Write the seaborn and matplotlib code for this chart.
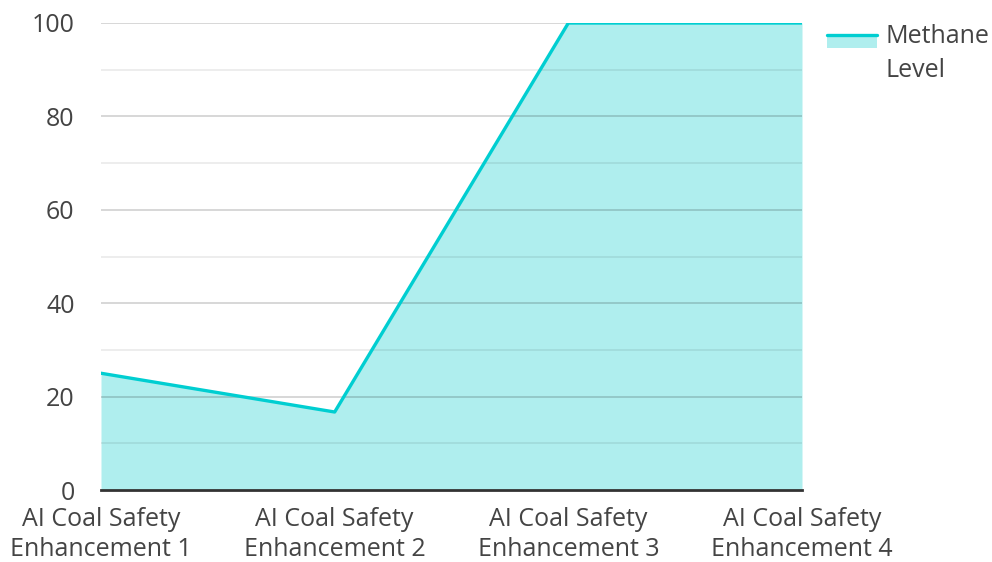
import matplotlib
matplotlib.use("Agg")
import matplotlib.pyplot as plt
import seaborn as sns
import pandas as pd
from matplotlib.lines import Line2D
from matplotlib.patches import Rectangle

categories = [
    "AI Coal Safety\nEnhancement 1",
    "AI Coal Safety\nEnhancement 2",
    "AI Coal Safety\nEnhancement 3",
    "AI Coal Safety\nEnhancement 4",
]
methane_level = [25, 16.7, 100, 100]
y_ticks = [0, 20, 40, 60, 80, 100]
y_minor = [10, 30, 50, 70, 90]
legend_lines = ["Methane", "Level"]

LINE_COLOR = "#00CED1"
FILL_COLOR = "#AFEEEE"
TEXT_COLOR = "#444444"
FONT_SIZE = 18

sns.set_theme(style="white")
plt.rcParams["font.family"] = ["Open Sans", "DejaVu Sans"]

W, H = 992, 562
df = pd.DataFrame({"idx": range(len(categories)), "level": methane_level})

fig = plt.figure(figsize=(W / 100, H / 100), dpi=100)
ax = fig.add_axes([101 / W, 1 - 490 / H, (802 - 101) / W, (490 - 23) / H])

ax.fill_between(df["idx"], 0, df["level"], color=FILL_COLOR, linewidth=0, zorder=1)
sns.lineplot(data=df, x="idx", y="level", ax=ax, color=LINE_COLOR, linewidth=2.4,
             zorder=3, legend=False)

# horizontal guide lines drawn over the filled area
for t in y_ticks[1:]:
    ax.axhline(t, color="#000000", alpha=0.2, linewidth=1.1, zorder=2)
for t in y_minor:
    ax.axhline(t, color="#000000", alpha=0.09, linewidth=1.1, zorder=2)

ax.set_xlim(0, len(categories) - 1)
ax.set_ylim(0, 100)
ax.set_xticks(range(len(categories)))
ax.set_xticklabels(categories, fontsize=FONT_SIZE, color=TEXT_COLOR, linespacing=1.3)
ax.set_yticks(y_ticks)
ax.set_yticklabels([str(t) for t in y_ticks], fontsize=FONT_SIZE, color=TEXT_COLOR)
ax.tick_params(axis="y", length=0, pad=19)
ax.tick_params(axis="x", length=0, pad=12)
ax.set_xlabel("")
ax.set_ylabel("")
ax.grid(False)

for side in ["top", "right", "left"]:
    ax.spines[side].set_visible(False)
ax.spines["bottom"].set_color("#333333")
ax.spines["bottom"].set_linewidth(2)
ax.spines["bottom"].set_zorder(4)

# legend: line over a filled swatch, label wrapped on two lines
fig.add_artist(Rectangle((827 / W, 1 - 48 / H), 50 / W, 13 / H, transform=fig.transFigure,
                         facecolor=FILL_COLOR, edgecolor="none"))
fig.add_artist(Line2D([827 / W, 877 / W], [1 - 35 / H, 1 - 35 / H], transform=fig.transFigure,
                      color=LINE_COLOR, linewidth=2.4))
for i, line in enumerate(legend_lines):
    fig.text(886 / W, 1 - (43 + 34 * i) / H, line, fontsize=FONT_SIZE, color=TEXT_COLOR,
             ha="left", va="baseline")

fig.savefig("out.png", dpi=100)
